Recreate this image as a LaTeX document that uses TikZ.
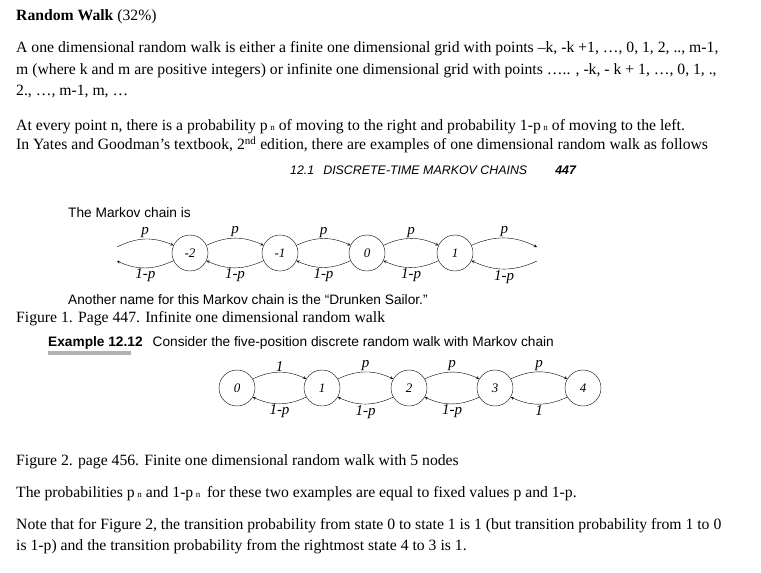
\documentclass[tikz,border=0pt]{standalone}
\usepackage{fontspec}
\setmainfont{Liberation Serif}
\setsansfont{Liberation Sans}
\begin{document}
\begin{tikzpicture}[x=1pt,y=-1pt,
  txt/.style={anchor=west,inner sep=0,font=\fontsize{15.7}{18}\selectfont},
  sf/.style={anchor=west,inner sep=0,font=\sffamily\fontsize{13.7}{16}\selectfont},
  st/.style={circle,draw,minimum size=36pt,inner sep=0,font=\itshape\fontsize{13}{15}\selectfont},
  lab/.style={font=\itshape\fontsize{15}{17}\selectfont,inner sep=1pt},
  ar/.style={->,>=stealth,thin}]
\useasboundingbox (0,0) rectangle (761,573);
\node[txt] (t0) at (16,17) {\textbf{Random Walk} (32\%)};
\node[txt] (t1) at (16,49) {A one dimensional random walk is either a finite one dimensional grid with points –k, -k +1, …, 0, 1, 2, .., m-1,};
\node[txt] (t2) at (16,71) {m (where k and m are positive integers) or infinite one dimensional grid with points ….. , -k, - k + 1, …, 0, 1, .,};
\node[txt] (t3) at (16,92) {2., …, m-1, m, …};
\node[txt] (t4) at (16,127) {At every point n, there is a probability p\,{\fontsize{9}{10}\selectfont n} of moving to the right and probability 1-p\,{\fontsize{9}{10}\selectfont n} of moving to the left.};
\node[txt] (t5) at (16,145) {In Yates and Goodman’s textbook, 2\textsuperscript{nd} edition, there are examples of one dimensional random walk as follows};
\node[sf,font=\sffamily\itshape\fontsize{12.4}{14}\selectfont] (h) at (290,170) {12.1\hspace{9pt}DISCRETE-TIME MARKOV CHAINS\hspace{28pt}\textbf{447}};
\node[sf] (m1) at (68,213) {The Markov chain is};
% chain 1
\node[st] (a) at (190,253) {-2};
\node[st] (b) at (280,253) {-1};
\node[st] (c) at (367,253) {0};
\node[st] (d) at (455,253) {1};
\coordinate (L) at (117,247);
\coordinate (L2) at (117,261);
\coordinate (R) at (537,247);
\coordinate (R2) at (537,261);
\draw[ar] (L) to[bend left=25] node[lab,above]{p} (a.155);
\draw[ar] (a.25) to[bend left=25] node[lab,above]{p} (b.155);
\draw[ar] (b.25) to[bend left=25] node[lab,above]{p} (c.155);
\draw[ar] (c.25) to[bend left=25] node[lab,above]{p} (d.155);
\draw[ar] (d.25) to[bend left=25] node[lab,above]{p} (R);
\draw[ar] (a.205) to[bend left=25] node[lab,below]{1-p} (L2);
\draw[ar] (b.205) to[bend left=25] node[lab,below]{1-p} (a.-25);
\draw[ar] (c.205) to[bend left=25] node[lab,below]{1-p} (b.-25);
\draw[ar] (d.205) to[bend left=25] node[lab,below]{1-p} (c.-25);
\draw[ar] (R2) to[bend left=25] node[lab,below]{1-p} (d.-25);
\node[sf] (m2) at (68,300) {Another name for this Markov chain is the “Drunken Sailor.”};
\node[txt] (f1) at (16,319) {Figure 1. Page 447. Infinite one dimensional random walk};
\node[sf] (ex) at (48,343) {\textbf{Example 12.12}\hspace{10pt}Consider the five-position discrete random walk with Markov chain};
\fill[gray!60] (48,351) rectangle (131,355);
% chain 2
\node[st] (n0) at (237,388) {0};
\node[st] (n1) at (322,388) {1};
\node[st] (n2) at (409,388) {2};
\node[st] (n3) at (495,388) {3};
\node[st] (n4) at (583,388) {4};
\draw[ar] (n0.30) to[bend left=25] node[lab,above]{1} (n1.150);
\draw[ar] (n1.30) to[bend left=25] node[lab,above]{p} (n2.150);
\draw[ar] (n2.30) to[bend left=25] node[lab,above]{p} (n3.150);
\draw[ar] (n3.30) to[bend left=25] node[lab,above]{p} (n4.150);
\draw[ar] (n1.210) to[bend left=25] node[lab,below]{1-p} (n0.-30);
\draw[ar] (n2.210) to[bend left=25] node[lab,below]{1-p} (n1.-30);
\draw[ar] (n3.210) to[bend left=25] node[lab,below]{1-p} (n2.-30);
\draw[ar] (n4.210) to[bend left=25] node[lab,below]{1} (n3.-30);
\node[txt] (f2) at (16,462) {Figure 2. page 456. Finite one dimensional random walk with 5 nodes};
\node[txt] (p1) at (16,494) {The probabilities p\,{\fontsize{9}{10}\selectfont n} and 1-p\,{\fontsize{9}{10}\selectfont n}\, for these two examples are equal to fixed values p and 1-p.};
\node[txt] (p2) at (16,526) {Note that for Figure 2, the transition probability from state 0 to state 1 is 1 (but transition probability from 1 to 0};
\node[txt] (p3) at (16,547) {is 1-p) and the transition probability from the rightmost state 4 to 3 is 1.};
\end{tikzpicture}
\end{document}
